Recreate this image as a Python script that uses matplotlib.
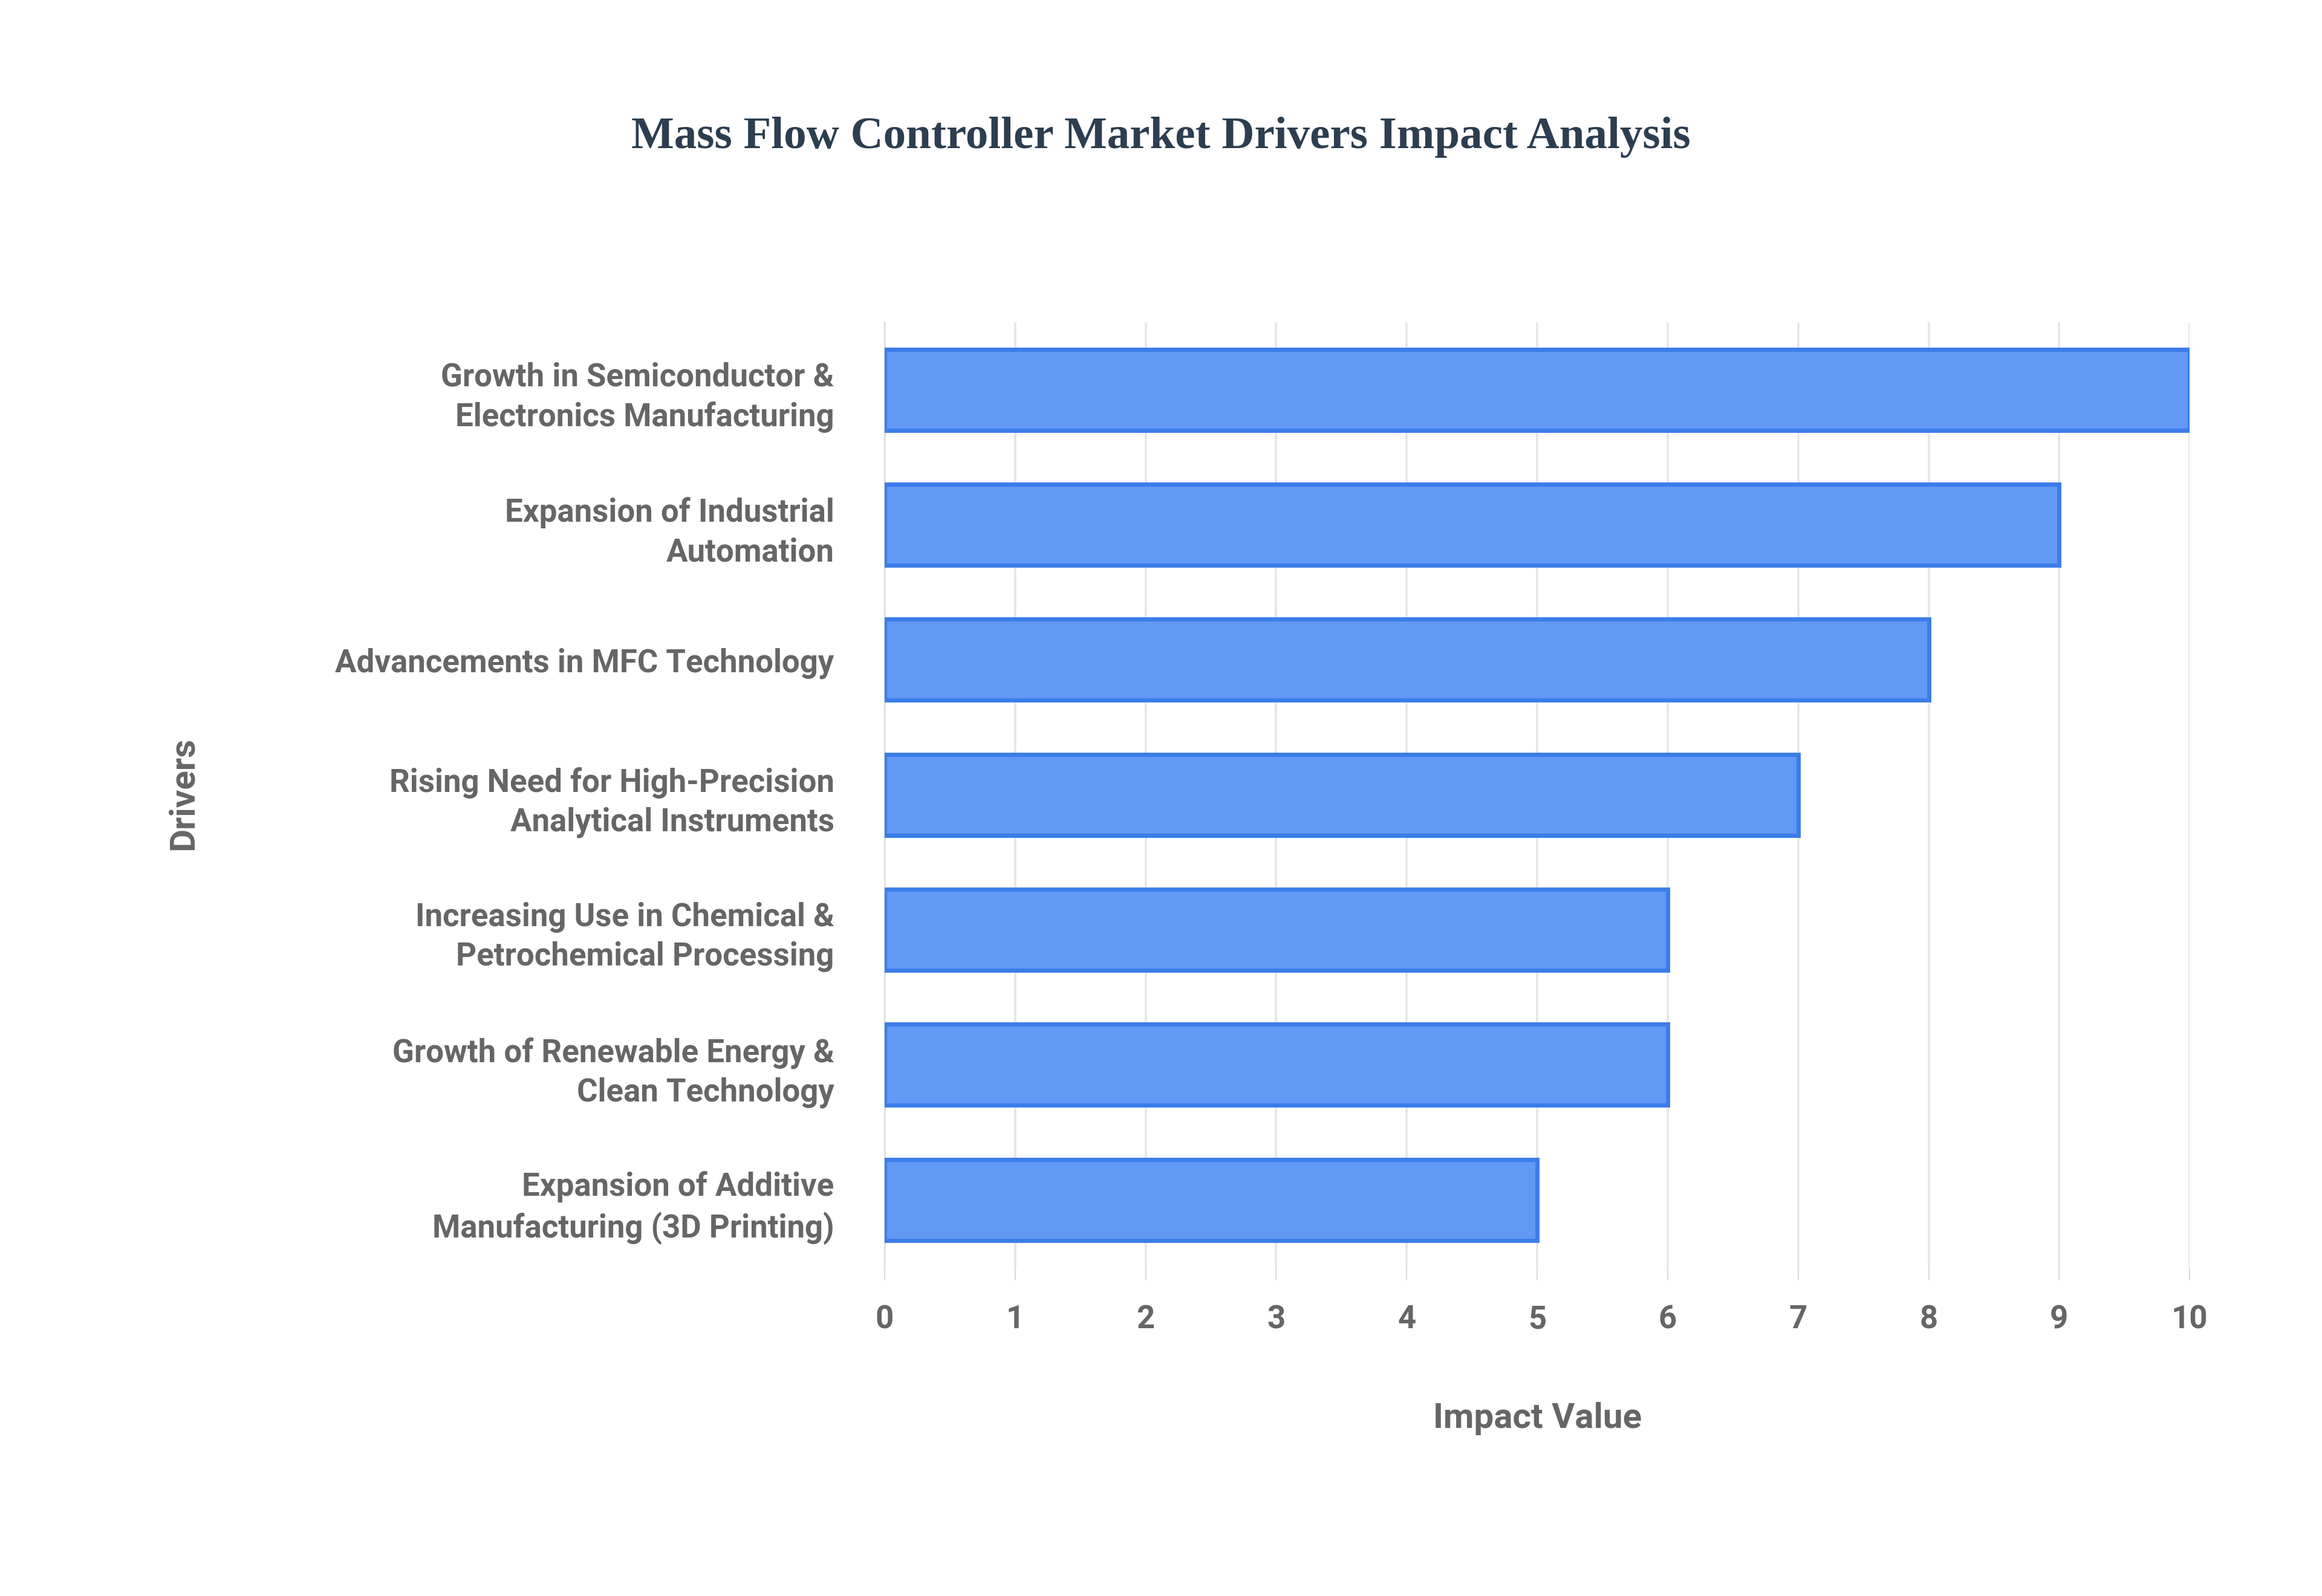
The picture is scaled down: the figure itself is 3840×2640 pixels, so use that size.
import matplotlib
matplotlib.use('Agg')
import matplotlib.pyplot as plt

drivers = [
    "Growth in Semiconductor &\nElectronics Manufacturing",
    "Expansion of Industrial\nAutomation",
    "Advancements in MFC Technology",
    "Rising Need for High-Precision\nAnalytical Instruments",
    "Increasing Use in Chemical &\nPetrochemical Processing",
    "Growth of Renewable Energy &\nClean Technology",
    "Expansion of Additive\nManufacturing (3D Printing)",
]
impact = [10, 9, 8, 7, 6, 6, 5]
xticks = list(range(0, 11))

label_font = ['Liberation Sans Narrow', 'Roboto', 'DejaVu Sans']
grey = '#666666'

fig = plt.figure(figsize=(19.2, 13.2), dpi=200)
ax = fig.add_axes([0.381, 0.206, 0.562, 0.592])

pos = list(range(len(drivers)))[::-1]
ax.barh(pos, impact, height=0.6, color='#6199F5', edgecolor='#3B7DE9', linewidth=2.5, zorder=3)

ax.set_xlim(0, 10)
ax.set_ylim(-0.5, len(drivers) - 0.5)
ax.set_xticks(xticks)
ax.set_yticks(pos)
ax.set_yticklabels(drivers, fontsize=19, fontweight='bold', color=grey, family=label_font, linespacing=1.35)
for t in ax.get_xticklabels():
    t.set_fontsize(19); t.set_fontweight('bold'); t.set_color(grey); t.set_family(label_font)
ax.tick_params(axis='y', length=0, pad=30)
ax.tick_params(axis='x', length=8, color='#dddddd', pad=14)
ax.grid(axis='x', color='#e6e6e6', linewidth=1.3, zorder=0)
for s in ['top', 'right', 'bottom']:
    ax.spines[s].set_visible(False)
ax.spines['left'].set_color('#dddddd')

ax.set_xlabel("Impact Value", fontsize=21, fontweight='bold', color=grey, family=label_font, labelpad=40)
fig.text(0.079, 0.503, "Drivers", rotation=90, fontsize=21, fontweight='bold', color=grey,
         family=label_font, ha='center', va='center')
fig.text(0.5, 0.914, "Mass Flow Controller Market Drivers Impact Analysis", fontsize=27, fontweight='bold',
         color='#2c3e50', family=['Liberation Serif', 'DejaVu Serif'], ha='center', va='center')

fig.savefig('out.png', dpi=200, facecolor='white')
